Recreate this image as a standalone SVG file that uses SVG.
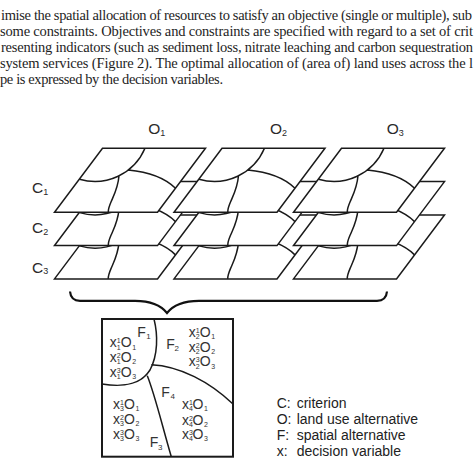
<svg xmlns="http://www.w3.org/2000/svg" xmlns:xlink="http://www.w3.org/1999/xlink" width="474" height="474" viewBox="0 0 474 474">
<style>
.para{font-family:"Liberation Serif","DejaVu Serif",serif;font-size:14.5px;fill:#1e1e1e}
.lbl{font-family:"Liberation Sans",Arial,sans-serif;font-size:15.5px;fill:#2a2a2a}
.lsub{font-family:"Liberation Sans",Arial,sans-serif;font-size:9px;fill:#2a2a2a}
.t{font-family:"Liberation Sans",Arial,sans-serif;font-size:14px;fill:#333}
.s{font-family:"Liberation Sans",Arial,sans-serif;font-size:7px;fill:#333}
.fs{font-family:"Liberation Sans",Arial,sans-serif;font-size:8px;fill:#333}
.leg{font-family:"Liberation Sans",Arial,sans-serif;font-size:14px;fill:#222}
.ln{fill:none;stroke:#1a1a1a;stroke-width:1.5;stroke-linejoin:miter}
.plate{fill:#fff;stroke:#1a1a1a;stroke-width:1.5}
</style>
<defs>
<g id="layer">
<polygon class="plate" points="102.5,148.3 205.5,148.3 157.5,212.3 54.5,212.3"/>
<path class="ln" d="M79.5,179.3 A54.6,54.6 0 0 0 145,148.3 M119,175.8 C118,188 114,195 111,202 S108.2,210 108.3,212.3 M128.3,170 Q160,173 175.5,188.3"/>
</g>
</defs>
<rect width="474" height="474" fill="#fff"/>
<g id="paragraph">
<text class="para" x="1" y="20" textLength="471" lengthAdjust="spacing">imise the spatial allocation of resources to satisfy an objective (single or multiple), sub</text>
<text class="para" x="0" y="36" textLength="473" lengthAdjust="spacing">some constraints. Objectives and constraints are specified with regard to a set of crit</text>
<text class="para" x="1" y="52" textLength="472" lengthAdjust="spacing">resenting indicators (such as sediment loss, nitrate leaching and carbon sequestration</text>
<text class="para" x="0" y="68" textLength="473" lengthAdjust="spacing">system services (Figure 2). The optimal allocation of (area of) land uses across the l</text>
<text class="para" x="0" y="84" textLength="223" lengthAdjust="spacing">pe is expressed by the decision variables.</text>
</g>
<g id="O1-stack">
<use xlink:href="#layer" href="#layer" transform="translate(0,66.6)"/>
<use xlink:href="#layer" href="#layer" transform="translate(0,33.3)"/>
<use xlink:href="#layer" href="#layer"/>
</g>
<g id="O2-stack">
<use xlink:href="#layer" href="#layer" transform="translate(119.5,66.6)"/>
<use xlink:href="#layer" href="#layer" transform="translate(119.5,33.3)"/>
<use xlink:href="#layer" href="#layer" transform="translate(119.5,0)"/>
</g>
<g id="O3-stack">
<use xlink:href="#layer" href="#layer" transform="translate(239,66.6)"/>
<use xlink:href="#layer" href="#layer" transform="translate(239,33.3)"/>
<use xlink:href="#layer" href="#layer" transform="translate(239,0)"/>
</g>
<g id="stack-labels">
<text class="lbl" x="148.3" y="134">O<tspan class="lsub" dy="2">1</tspan></text>
<text class="lbl" x="270" y="134">O<tspan class="lsub" dy="2">2</tspan></text>
<text class="lbl" x="386.7" y="134">O<tspan class="lsub" dy="2">3</tspan></text>
<text class="lbl" x="32" y="193.3">C<tspan class="lsub" dy="1.5">1</tspan></text>
<text class="lbl" x="32" y="233.3">C<tspan class="lsub" dy="1.5">2</tspan></text>
<text class="lbl" x="32" y="272.7">C<tspan class="lsub" dy="1.5">3</tspan></text>
</g>
<g id="connectors">
<path d="M70,291.5 C70.5,297 73,300.8 80,300.8 L135,300.8 C150,300.8 160,304 167,313 C174,304 184,300.8 199,300.8 L377,300.8 C384,300.8 386.5,297 387,291.5" fill="none" stroke="#111" stroke-width="2.2"/>
</g>
<g id="spatial-map">
<rect x="102" y="319" width="131" height="137.7" fill="#fff" stroke="#1a1a1a" stroke-width="2"/>
<path class="ln" d="M154,319 C158,335 158,355 150,370 C142,383 125,388 102,384 M151.3,364.7 C180,366 210,382 233,404 M147.3,375.7 C155,395 162,425 171.3,456.7"/>
<g id="F1">
<text class="t" x="137.3" y="336.7">F</text><text class="fs" x="146.3" y="339">1</text>
<text class="t"><tspan x="109.7" y="347.3">x</tspan><tspan class="s" x="116.7" y="343.3">1</tspan><tspan class="s" x="116.7" y="349.7">1</tspan><tspan x="120.7" y="347.3">O</tspan><tspan class="s" x="132.3" y="349.5">1</tspan></text>
<text class="t"><tspan x="109.7" y="362">x</tspan><tspan class="s" x="116.7" y="358">2</tspan><tspan class="s" x="116.7" y="364.4">1</tspan><tspan x="120.7" y="362">O</tspan><tspan class="s" x="132.3" y="364.2">2</tspan></text>
<text class="t"><tspan x="109.7" y="376.7">x</tspan><tspan class="s" x="116.7" y="372.7">3</tspan><tspan class="s" x="116.7" y="379.1">1</tspan><tspan x="120.7" y="376.7">O</tspan><tspan class="s" x="132.3" y="378.9">3</tspan></text>
</g>
<g id="F2">
<text class="t" x="166.3" y="349">F</text><text class="fs" x="174.5" y="351">2</text>
<text class="t"><tspan x="188.7" y="337">x</tspan><tspan class="s" x="195.7" y="333">1</tspan><tspan class="s" x="195.7" y="339.4">2</tspan><tspan x="199.7" y="337">O</tspan><tspan class="s" x="211.3" y="339.2">1</tspan></text>
<text class="t"><tspan x="188.7" y="351.7">x</tspan><tspan class="s" x="195.7" y="347.7">2</tspan><tspan class="s" x="195.7" y="354.1">2</tspan><tspan x="199.7" y="351.7">O</tspan><tspan class="s" x="211.3" y="353.9">2</tspan></text>
<text class="t"><tspan x="188.7" y="366.4">x</tspan><tspan class="s" x="195.7" y="362.4">3</tspan><tspan class="s" x="195.7" y="368.8">2</tspan><tspan x="199.7" y="366.4">O</tspan><tspan class="s" x="211.3" y="368.6">3</tspan></text>
</g>
<g id="F3">
<text class="t" x="149.7" y="447.3">F</text><text class="fs" x="158" y="449.5">3</text>
<text class="t"><tspan x="113" y="409">x</tspan><tspan class="s" x="120" y="405">1</tspan><tspan class="s" x="120" y="411.4">3</tspan><tspan x="124" y="409">O</tspan><tspan class="s" x="135.6" y="411.2">1</tspan></text>
<text class="t"><tspan x="113" y="424">x</tspan><tspan class="s" x="120" y="420">2</tspan><tspan class="s" x="120" y="426.4">3</tspan><tspan x="124" y="424">O</tspan><tspan class="s" x="135.6" y="426.2">2</tspan></text>
<text class="t"><tspan x="113" y="439">x</tspan><tspan class="s" x="120" y="435">3</tspan><tspan class="s" x="120" y="441.4">3</tspan><tspan x="124" y="439">O</tspan><tspan class="s" x="135.6" y="441.2">3</tspan></text>
</g>
<g id="F4">
<text class="t" x="161.3" y="396.7">F</text><text class="fs" x="170.5" y="398.5">4</text>
<text class="t"><tspan x="182" y="409">x</tspan><tspan class="s" x="189" y="405">1</tspan><tspan class="s" x="189" y="411.4">4</tspan><tspan x="192.5" y="409">O</tspan><tspan class="s" x="204.1" y="411.2">1</tspan></text>
<text class="t"><tspan x="182" y="424.5">x</tspan><tspan class="s" x="189" y="420.5">2</tspan><tspan class="s" x="189" y="426.9">4</tspan><tspan x="192.5" y="424.5">O</tspan><tspan class="s" x="204.1" y="426.7">2</tspan></text>
<text class="t"><tspan x="182" y="439">x</tspan><tspan class="s" x="189" y="435">3</tspan><tspan class="s" x="189" y="441.4">4</tspan><tspan x="192.5" y="439">O</tspan><tspan class="s" x="204.1" y="441.2">3</tspan></text>
</g>
</g>
<g id="legend">
<text class="leg" x="276.7" y="408">C:</text><text class="leg" x="296.7" y="408">criterion</text>
<text class="leg" x="276.7" y="424">O:</text><text class="leg" x="296.7" y="424">land use alternative</text>
<text class="leg" x="276.7" y="440">F:</text><text class="leg" x="296.7" y="440">spatial alternative</text>
<text class="leg" x="276.7" y="455.5">x:</text><text class="leg" x="296.7" y="455.5">decision variable</text>
</g>
</svg>
